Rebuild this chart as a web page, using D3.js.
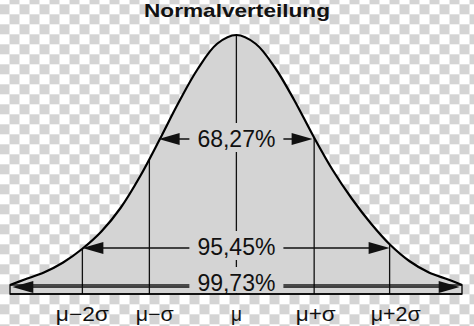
<!DOCTYPE html>
<html>
<head>
<meta charset="utf-8">
<script src="https://cdn.jsdelivr.net/npm/d3@7"></script>
<style>
  body { margin: 0; background: #fff; }
  svg { display: block; }
</style>
</head>
<body>
<svg id="chart"></svg>
<script>
// Werte (x in Sigma-Einheiten, Hoehe relativ zum Maximum)
var curveZ = [-2.94, -2.75, -2.5, -2.25, -2, -1.75, -1.5, -1.25, -1, -0.75, -0.5, -0.25, 0,
              0.25, 0.5, 0.75, 1, 1.25, 1.5, 1.75, 2, 2.25, 2.5, 2.75, 2.93];
var curveH = [0, 0.022, 0.05, 0.09, 0.145, 0.215, 0.31, 0.435, 0.58, 0.73, 0.865, 0.965, 1,
              0.965, 0.87, 0.74, 0.595, 0.46, 0.345, 0.245, 0.16, 0.095, 0.05, 0.022, 0];

var markerZ = [-2.0, -1.13, 0, 1.01, 1.99];
var labelZ = [-2.0, -1.06, 0, 1.03, 2.07];
var markerNames = ["μ−2σ", "μ−σ", "μ", "μ+σ", "μ+2σ"];

var percentLabels = ["68,27%", "95,45%", "99,73%"];
var intervalLo = [-1.01, -2.0, -2.91];
var intervalHi = [0.99, 1.99, 2.9];
var intervalLevel = [0.584, 0.148, -0.008];

var title = "Normalverteilung";

var width = 474, height = 326;
var baseBottom = 294;
var fillGray = "#d4d4d4";
var font = "'Liberation Sans', Arial, Helvetica, sans-serif";

var svg = d3.select("#chart").attr("width", width).attr("height", height);

// Karomuster im Hintergrund
var defs = svg.append("defs");
var pat = defs.append("pattern")
    .attr("id", "checker")
    .attr("patternUnits", "userSpaceOnUse")
    .attr("x", -0.5).attr("y", -5.7)
    .attr("width", 20).attr("height", 20);
pat.append("rect").attr("width", 20).attr("height", 20).attr("fill", "#fff");
pat.append("rect").attr("x", 10).attr("y", 0).attr("width", 10).attr("height", 10).attr("fill", fillGray);
pat.append("rect").attr("x", 0).attr("y", 10).attr("width", 10).attr("height", 10).attr("fill", fillGray);
svg.append("rect").attr("width", width).attr("height", height).attr("fill", "url(#checker)");

var data = curveZ.map(function (z, i) { return { z: z, h: curveH[i] }; });

var x = d3.scaleLinear().domain([-2.94, 2.93]).range([10, 462]);
var y = d3.scaleLinear().domain([0, 1]).range([285, 35]);

var area = d3.area()
    .x(function (d) { return x(d.z); })
    .y0(baseBottom)
    .y1(function (d) { return y(d.h); })
    .curve(d3.curveCatmullRom);

var line = d3.line()
    .x(function (d) { return x(d.z); })
    .y(function (d) { return y(d.h); })
    .curve(d3.curveCatmullRom);

defs.append("clipPath").attr("id", "underCurve")
    .append("path").attr("d", area(data));

svg.append("path")
    .attr("d", area(data))
    .attr("fill", fillGray);

// senkrechte Linien, an der Kurve abgeschnitten
svg.append("g")
    .attr("clip-path", "url(#underCurve)")
    .selectAll("line")
    .data(markerZ)
    .enter().append("line")
    .attr("x1", function (d) { return x(d); })
    .attr("x2", function (d) { return x(d); })
    .attr("y1", y(1))
    .attr("y2", baseBottom)
    .attr("stroke", "#111")
    .attr("stroke-width", 1.3);

// Grundleiste
svg.append("rect")
    .attr("x", x(-2.94))
    .attr("y", y(0))
    .attr("width", x(2.93) - x(-2.94))
    .attr("height", baseBottom - y(0))
    .attr("fill", "none")
    .attr("stroke", "#000")
    .attr("stroke-width", 1.3);

svg.append("path")
    .attr("d", line(data))
    .attr("fill", "none")
    .attr("stroke", "#000")
    .attr("stroke-width", 2.2);

// Pfeile
var arrowLen = 21, arrowHalf = 6;
percentLabels.forEach(function (lab, i) {
    var yy = y(intervalLevel[i]);
    var x0 = x(intervalLo[i]), x1 = x(intervalHi[i]);
    svg.append("line")
        .attr("x1", x0 + arrowLen - 1).attr("x2", x1 - arrowLen + 1)
        .attr("y1", yy).attr("y2", yy)
        .attr("stroke", "#111").attr("stroke-width", 1.3);
    svg.append("path")
        .attr("d", "M" + x0 + "," + yy + "L" + (x0 + arrowLen) + "," + (yy - arrowHalf) +
                   "L" + (x0 + arrowLen) + "," + (yy + arrowHalf) + "Z")
        .attr("fill", "#111");
    svg.append("path")
        .attr("d", "M" + x1 + "," + yy + "L" + (x1 - arrowLen) + "," + (yy - arrowHalf) +
                   "L" + (x1 - arrowLen) + "," + (yy + arrowHalf) + "Z")
        .attr("fill", "#111");
});

var textDy = [8, 7, 4];
percentLabels.forEach(function (lab, i) {
    var yy = y(intervalLevel[i]) + textDy[i];
    var bg = svg.append("rect").attr("fill", fillGray);
    var t = svg.append("text")
        .text(lab)
        .attr("x", x(0))
        .attr("y", yy)
        .attr("text-anchor", "middle")
        .style("font-family", font)
        .style("font-size", "23px")
        .style("fill", "#111");
    var b = t.node().getBBox();
    var bottom = Math.min(yy + 5, baseBottom - 1);
    bg.attr("x", b.x - 8).attr("width", b.width + 16)
      .attr("y", yy - 24).attr("height", bottom - (yy - 24));
});

// untere Kante wieder drueber
svg.append("line")
    .attr("x1", x(-2.94)).attr("x2", x(2.93))
    .attr("y1", baseBottom).attr("y2", baseBottom)
    .attr("stroke", "#000").attr("stroke-width", 1.3);

// Beschriftung unten
var labelWidths = [53, 38, 11, 40, 50];
svg.selectAll("text.marker")
    .data(markerNames)
    .enter().append("text")
    .attr("class", "marker")
    .text(function (d) { return d; })
    .attr("x", function (d, i) { return x(labelZ[i]); })
    .attr("y", 321)
    .attr("text-anchor", "middle")
    .attr("textLength", function (d, i) { return labelWidths[i]; })
    .attr("lengthAdjust", "spacingAndGlyphs")
    .style("font-family", font)
    .style("font-size", "20px")
    .style("fill", "#111");

svg.append("text")
    .text(title)
    .attr("x", 237)
    .attr("y", 17)
    .attr("text-anchor", "middle")
    .attr("textLength", 186)
    .attr("lengthAdjust", "spacingAndGlyphs")
    .style("font-family", font)
    .style("font-weight", "bold")
    .style("font-size", "19px")
    .style("fill", "#111");
</script>
</body>
</html>
